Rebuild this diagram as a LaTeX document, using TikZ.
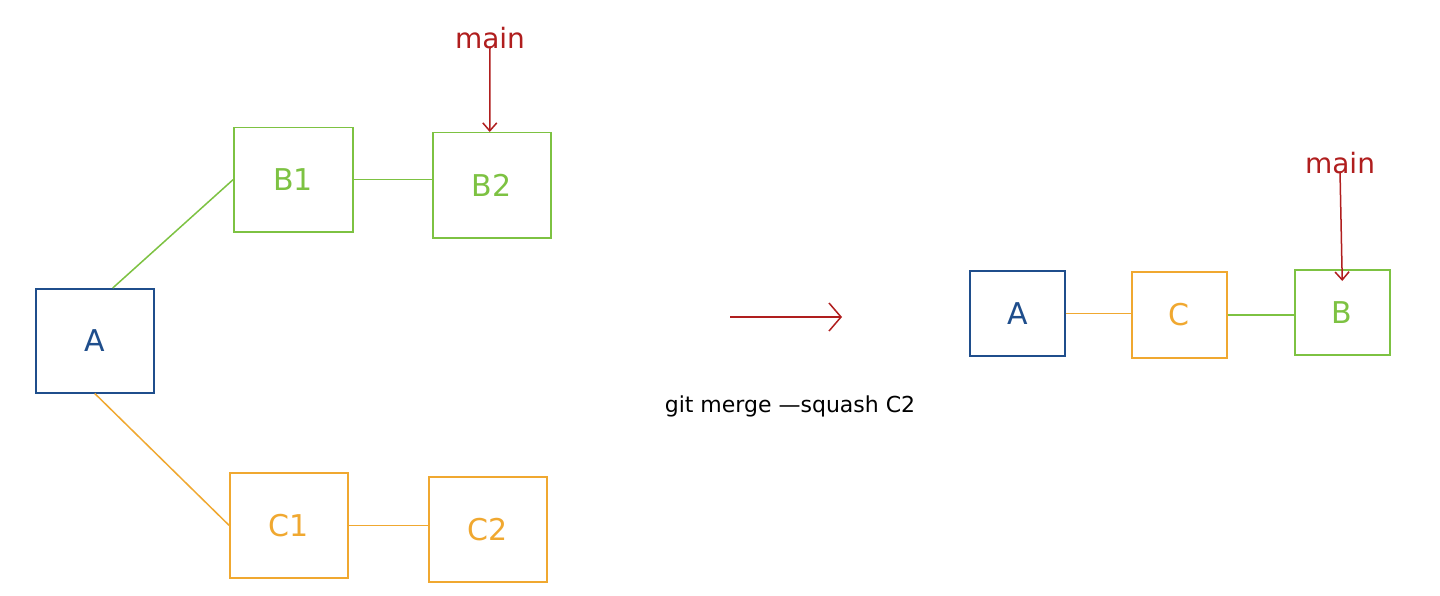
\documentclass[tikz,border=0pt]{standalone}
\usepackage{fontspec}
\usetikzlibrary{arrows.meta}
\setmainfont{DejaVu Sans}
\begin{document}
\begin{tikzpicture}[x=1pt,y=-1pt,
  box/.style={draw,line width=1.5pt,anchor=north west,inner sep=0pt},
  lbl/.style={font=\fontsize{30}{30}\selectfont},
  cb/.style={draw=blueC,text=blueC},cg/.style={draw=greenC,text=greenC},co/.style={draw=orangeC,text=orangeC}]
\definecolor{blueC}{HTML}{1F4E8C}\definecolor{greenC}{HTML}{7DC242}
\definecolor{orangeC}{HTML}{F0A830}\definecolor{redC}{HTML}{B01E1E}
\useasboundingbox[fill=white] (0,0) rectangle (1440,596);
\node[box,cb,lbl,minimum width=118pt,minimum height=104pt] (A) at (35,288) {A};
\node[box,cg,lbl,minimum width=119pt,minimum height=104pt] (B1) at (233,127) {B1};
\node[box,cg,lbl,minimum width=118pt,minimum height=105pt] (B2) at (432,132) {B2};
\node[box,co,lbl,minimum width=118pt,minimum height=105pt] (C1) at (229,472) {C1};
\node[box,co,lbl,minimum width=118pt,minimum height=105pt] (C2) at (428,476) {C2};
\draw[greenC,line width=1.5pt] ([xshift=18pt]A.north) -- (B1.west);
\draw[greenC,line width=1.5pt] (B1.east) -- (B2.west|-B1.east);
\draw[orangeC,line width=1.5pt] (A.south) -- (C1.west);
\draw[orangeC,line width=1.5pt] (C1.east) -- (C2.west|-C1.east);
\node[text=redC,font=\fontsize{28}{28}\selectfont] (m1) at (490,38) {main};
\draw[redC,line width=1.5pt,-{Straight Barb[length=8pt,width=14pt]}] ([yshift=6pt]m1.south) -- ([xshift=-2pt]B2.north);
\coordinate (s) at (730,317); \coordinate (e) at (842,317);
\draw[redC,line width=1.5pt,-{Straight Barb[length=12pt,width=28pt]}] (s) -- (e);
\node[font=\fontsize{22}{22}\selectfont] (cmd) at (790,406) {git merge —squash C2};
\node[box,cb,lbl,minimum width=95pt,minimum height=85pt] (A2) at (969,270) {A};
\node[box,co,lbl,minimum width=95pt,minimum height=86pt] (C) at (1131,271) {C};
\node[box,cg,lbl,minimum width=95pt,minimum height=85pt] (B) at (1294,269) {B};
\draw[orangeC,line width=1.5pt] (A2.east) -- (C.west|-A2.east);
\draw[greenC,line width=1.5pt] (C.east) -- (B.west|-C.east);
\node[text=redC,font=\fontsize{28}{28}\selectfont] (m2) at (1340,163) {main};
\draw[redC,line width=1.5pt,-{Straight Barb[length=8pt,width=14pt]}] ([yshift=6pt]m2.south) -- ([yshift=-12pt]B.north);
\end{tikzpicture}
\end{document}
